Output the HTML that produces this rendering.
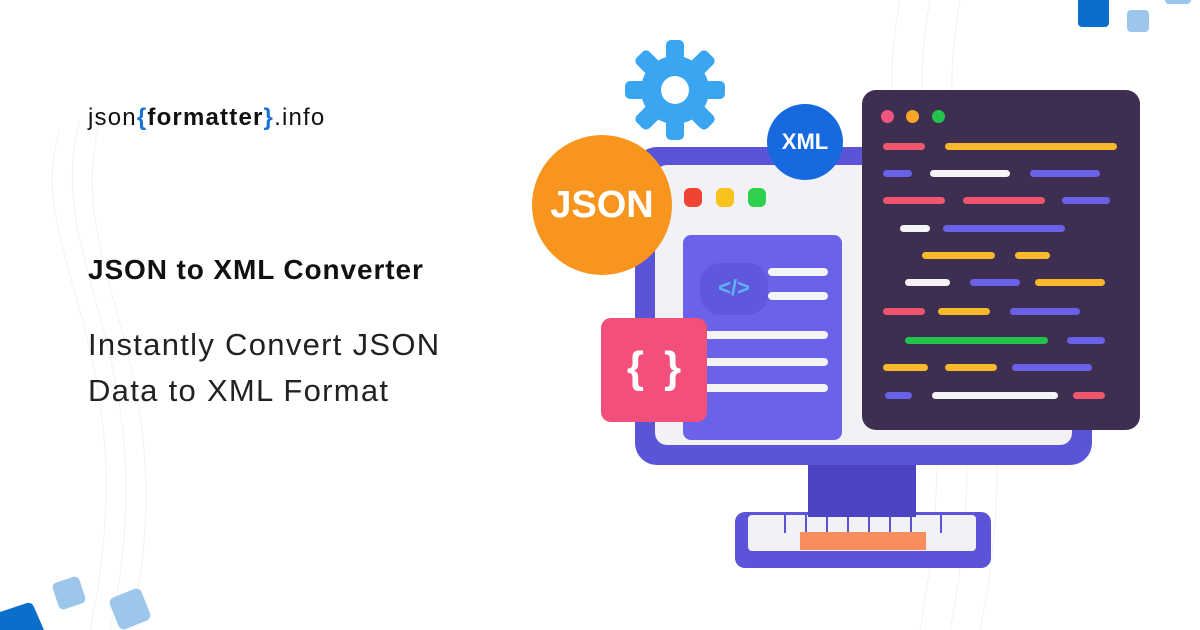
<!DOCTYPE html>
<html><head><meta charset="utf-8"><style>
*{margin:0;padding:0;box-sizing:border-box}
body{width:1200px;height:630px;background:#fff;position:relative;overflow:hidden;font-family:"Liberation Sans",sans-serif}
.a{position:absolute}
.ln{position:absolute;height:7px;border-radius:4px}
.r{background:#f0566e}.y{background:#f9b92c}.b{background:#6a62e6}.w{background:#f4f4f4}.g{background:#23c24a}
.k{position:absolute;top:515px;width:2px;height:18px;background:#5b54d8}
</style></head><body>
<svg class="a" style="left:0;top:0" width="1200" height="630">
<g fill="none" stroke="#f1f1f1" stroke-width="1">
<path d="M60 130 C20 250 150 350 90 630"/><path d="M80 120 C40 260 170 360 110 630"/>
<path d="M100 120 C60 270 190 370 130 630"/><path d="M900 0 C860 200 980 300 920 630"/>
<path d="M930 0 C890 210 1010 320 950 630"/><path d="M960 0 C920 220 1040 340 980 630"/>
</g>
<rect x="1078" y="-6" width="31" height="33" rx="4" fill="#0a6fcb"/>
<rect x="1127" y="10" width="22" height="22" rx="4" fill="#9cc6ea"/>
<rect x="1165" y="-8" width="26" height="12" rx="4" fill="#9cc6ea"/>
<rect x="55" y="579" width="28" height="28" rx="5" fill="#9cc6ea" transform="rotate(-18 69 593)"/>
<rect x="113" y="592" width="34" height="34" rx="6" fill="#9cc6ea" transform="rotate(-22 130 609)"/>
<path d="M0 612 L27 603 Q32 602 34 607 L44 630 L0 630Z" fill="#0a6fcb"/>
</svg>

<div class="a" style="left:88px;top:104px;font-size:24px;color:#111;letter-spacing:1.2px">json<b style="color:#1a73d8">{</b><b>formatter</b><b style="color:#1a73d8">}</b>.info</div>
<div class="a" style="left:88px;top:254px;font-size:28px;font-weight:bold;color:#111;letter-spacing:0.9px">JSON to XML Converter</div>
<div class="a" style="left:88px;top:322px;font-size:31px;line-height:46px;color:#222;letter-spacing:1.3px">Instantly Convert JSON<br>Data to XML Format</div>

<!-- monitor -->
<div class="a" style="left:735px;top:512px;width:256px;height:56px;background:#5b54d8;border-radius:10px"></div>
<div class="a" style="left:748px;top:515px;width:228px;height:36px;background:#f2f2f6;border-radius:4px"></div>
<div class="k" style="left:784px"></div><div class="k" style="left:805px"></div><div class="k" style="left:826px"></div><div class="k" style="left:847px"></div><div class="k" style="left:868px"></div><div class="k" style="left:889px"></div><div class="k" style="left:910px"></div><div class="k" style="left:940px"></div>
<div class="a" style="left:800px;top:532px;width:126px;height:18px;background:#f88d5e"></div>
<div class="a" style="left:808px;top:462px;width:108px;height:55px;background:#4a43c2"></div>
<div class="a" style="left:635px;top:147px;width:457px;height:318px;background:#5a54d6;border-radius:22px"></div>
<div class="a" style="left:655px;top:165px;width:417px;height:280px;background:#f1f1f6;border-radius:12px"></div>
<div class="a" style="left:684px;top:188px;width:18px;height:19px;background:#f04432;border-radius:6px"></div>
<div class="a" style="left:716px;top:188px;width:18px;height:19px;background:#f9c21c;border-radius:6px"></div>
<div class="a" style="left:748px;top:188px;width:18px;height:19px;background:#2fd04c;border-radius:6px"></div>
<div class="a" style="left:683px;top:235px;width:159px;height:205px;background:#6a63ea;border-radius:8px"></div>
<div class="a" style="left:700px;top:263px;width:68px;height:52px;background:#6058dc;border-radius:20px;color:#5cb4f5;font-size:22px;font-weight:bold;text-align:center;line-height:50px">&lt;/&gt;</div>
<div class="ln w" style="left:768px;top:268px;width:60px;height:8px"></div>
<div class="ln w" style="left:768px;top:292px;width:60px;height:8px"></div>
<div class="ln w" style="left:700px;top:331px;width:128px;height:8px"></div>
<div class="ln w" style="left:700px;top:358px;width:128px;height:8px"></div>
<div class="ln w" style="left:700px;top:384px;width:128px;height:8px"></div>
<div class="a" style="left:601px;top:318px;width:106px;height:104px;background:#f24f7b;border-radius:10px;color:#fff;font-size:44px;font-weight:bold;text-align:center;line-height:100px;letter-spacing:20px;padding-left:20px">{}</div>
<!-- dark panel -->
<div class="a" style="left:862px;top:90px;width:278px;height:340px;background:#3e2e52;border-radius:14px"></div>
<div class="a" style="left:881px;top:110px;width:13px;height:13px;background:#f1557c;border-radius:50%"></div>
<div class="a" style="left:906px;top:110px;width:13px;height:13px;background:#f9a52a;border-radius:50%"></div>
<div class="a" style="left:932px;top:110px;width:13px;height:13px;background:#23c24a;border-radius:50%"></div>
<div class="ln r" style="left:883px;top:143px;width:42px"></div><div class="ln y" style="left:945px;top:143px;width:172px"></div>
<div class="ln b" style="left:883px;top:170px;width:29px"></div><div class="ln w" style="left:930px;top:170px;width:80px"></div><div class="ln b" style="left:1030px;top:170px;width:70px"></div>
<div class="ln r" style="left:883px;top:197px;width:62px"></div><div class="ln r" style="left:963px;top:197px;width:82px"></div><div class="ln b" style="left:1062px;top:197px;width:48px"></div>
<div class="ln w" style="left:900px;top:225px;width:30px"></div><div class="ln b" style="left:943px;top:225px;width:122px"></div>
<div class="ln y" style="left:922px;top:252px;width:73px"></div><div class="ln y" style="left:1015px;top:252px;width:35px"></div>
<div class="ln w" style="left:905px;top:279px;width:45px"></div><div class="ln b" style="left:970px;top:279px;width:50px"></div><div class="ln y" style="left:1035px;top:279px;width:70px"></div>
<div class="ln r" style="left:883px;top:308px;width:42px"></div><div class="ln y" style="left:938px;top:308px;width:52px"></div><div class="ln b" style="left:1010px;top:308px;width:70px"></div>
<div class="ln g" style="left:905px;top:337px;width:143px"></div><div class="ln b" style="left:1067px;top:337px;width:38px"></div>
<div class="ln y" style="left:883px;top:364px;width:45px"></div><div class="ln y" style="left:945px;top:364px;width:52px"></div><div class="ln b" style="left:1012px;top:364px;width:80px"></div>
<div class="ln b" style="left:885px;top:392px;width:27px"></div><div class="ln w" style="left:932px;top:392px;width:126px"></div><div class="ln r" style="left:1073px;top:392px;width:32px"></div>
<!-- gear -->
<svg class="a" style="left:625px;top:40px" width="100" height="100" viewBox="-50 -50 100 100">
<g fill="#3aa6f2"><circle r="34"/>
<g id="t"><rect x="-9" y="-50" width="18" height="22" rx="5"/></g>
<use href="#t" transform="rotate(45)"/><use href="#t" transform="rotate(90)"/><use href="#t" transform="rotate(135)"/><use href="#t" transform="rotate(180)"/><use href="#t" transform="rotate(225)"/><use href="#t" transform="rotate(270)"/><use href="#t" transform="rotate(315)"/></g>
<circle r="14" fill="#fff"/></svg>
<div class="a" style="left:767px;top:104px;width:76px;height:76px;background:#1769e0;border-radius:50%;color:#fff;font-size:22px;font-weight:bold;text-align:center;line-height:76px">XML</div>
<div class="a" style="left:532px;top:135px;width:140px;height:140px;background:#f8951f;border-radius:50%;color:#fff;font-size:38px;font-weight:bold;text-align:center;line-height:140px">JSON</div>
</body></html>
